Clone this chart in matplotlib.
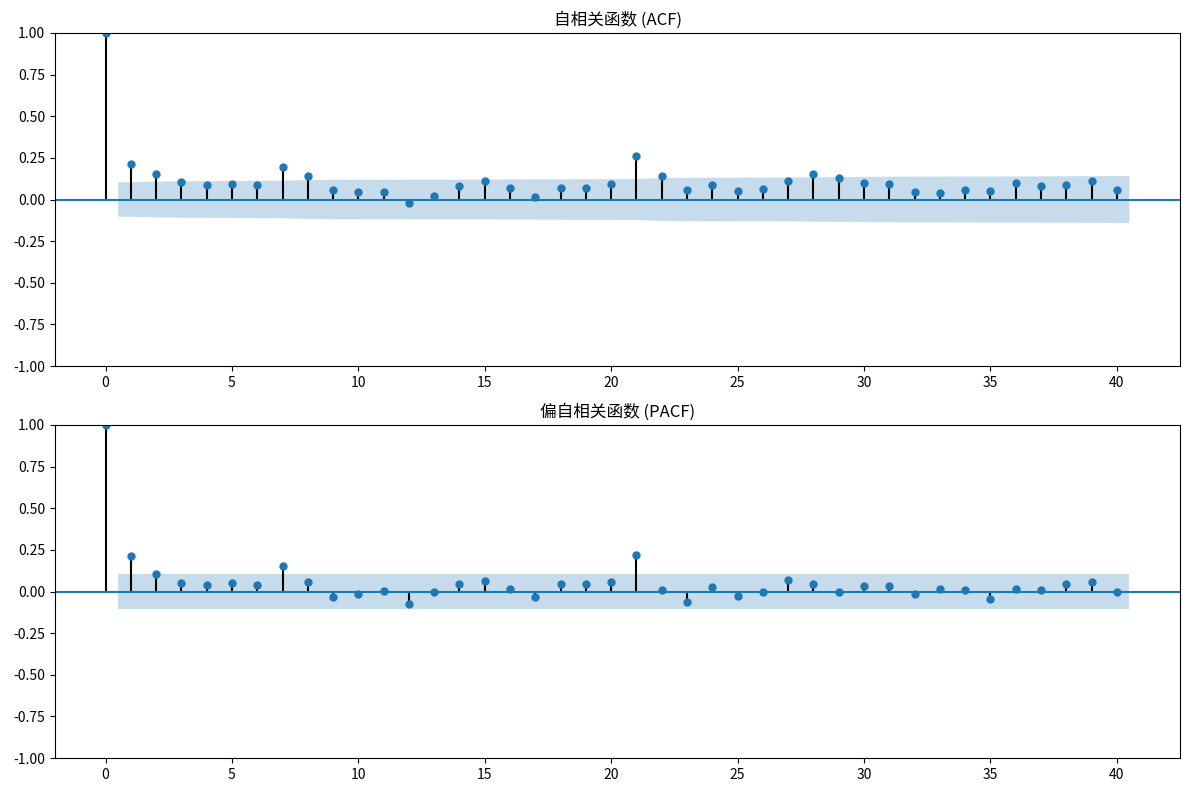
import numpy as np
import matplotlib
matplotlib.use('Agg')
import matplotlib.pyplot as plt

plt.rcParams['font.family'] = ['Noto Sans CJK SC', 'DejaVu Sans']
plt.rcParams['axes.unicode_minus'] = False

n_obs = 365
lags = np.arange(0, 41)

acf_vals = [1.0, 0.214, 0.154, 0.106, 0.090, 0.094, 0.090, 0.198, 0.144, 0.058,
            0.046, 0.046, -0.020, 0.024, 0.084, 0.112, 0.072, 0.014, 0.072, 0.072,
            0.096, 0.264, 0.144, 0.058, 0.090, 0.052, 0.064, 0.112, 0.154, 0.130,
            0.100, 0.094, 0.046, 0.040, 0.058, 0.052, 0.100, 0.084, 0.090, 0.112,
            0.058]
pacf_vals = [1.0, 0.214, 0.106, 0.052, 0.042, 0.052, 0.042, 0.154, 0.058, -0.032,
             -0.013, 0.004, -0.074, -0.002, 0.046, 0.064, 0.016, -0.032, 0.046, 0.046,
             0.058, 0.220, 0.010, -0.062, 0.030, -0.026, -0.006, 0.070, 0.046, -0.002,
             0.034, 0.034, -0.014, 0.016, 0.010, -0.044, 0.016, 0.010, 0.046, 0.058,
             -0.006]

acf_vals = np.array(acf_vals)
pacf_vals = np.array(pacf_vals)

# confidence bands (Bartlett for acf, 1/sqrt(n) for pacf)
acf_var = np.ones(len(lags)) / n_obs
acf_var[2:] = (1 + 2 * np.cumsum(acf_vals[1:-1] ** 2)) / n_obs
acf_band = 1.96 * np.sqrt(acf_var)
pacf_band = np.full(len(lags), 1.96 / np.sqrt(n_obs))

fig = plt.figure(figsize=(11.9, 7.9), dpi=100)
ax1 = fig.add_axes([55 / 1190, 1 - 366 / 790, 1125 / 1190, 333 / 790])
ax2 = fig.add_axes([55 / 1190, 1 - 758 / 790, 1125 / 1190, 333 / 790])


def draw(ax, vals, band, title):
    x = lags[1:].astype(float)
    x[0] -= 0.5
    x[-1] += 0.5
    ax.fill_between(x, -band[1:], band[1:], alpha=0.25, linewidth=0)
    ax.vlines(lags, 0, vals, colors='black', linewidth=1.5)
    ax.axhline(0, color='C0', linewidth=1.5)
    ax.plot(lags, vals, marker='o', markersize=5, linestyle='None', color='C0')
    ax.set_ylim(-1, 1)
    ax.set_xlim(-2, 42.5)
    ax.set_yticks([-1, -0.75, -0.5, -0.25, 0, 0.25, 0.5, 0.75, 1])
    ax.set_yticklabels(['%.2f' % v for v in ax.get_yticks()])
    ax.set_title(title, fontsize=12)


draw(ax1, acf_vals, acf_band, '自相关函数 (ACF)')
draw(ax2, pacf_vals, pacf_band, '偏自相关函数 (PACF)')

fig.savefig('out.png', dpi=100)
